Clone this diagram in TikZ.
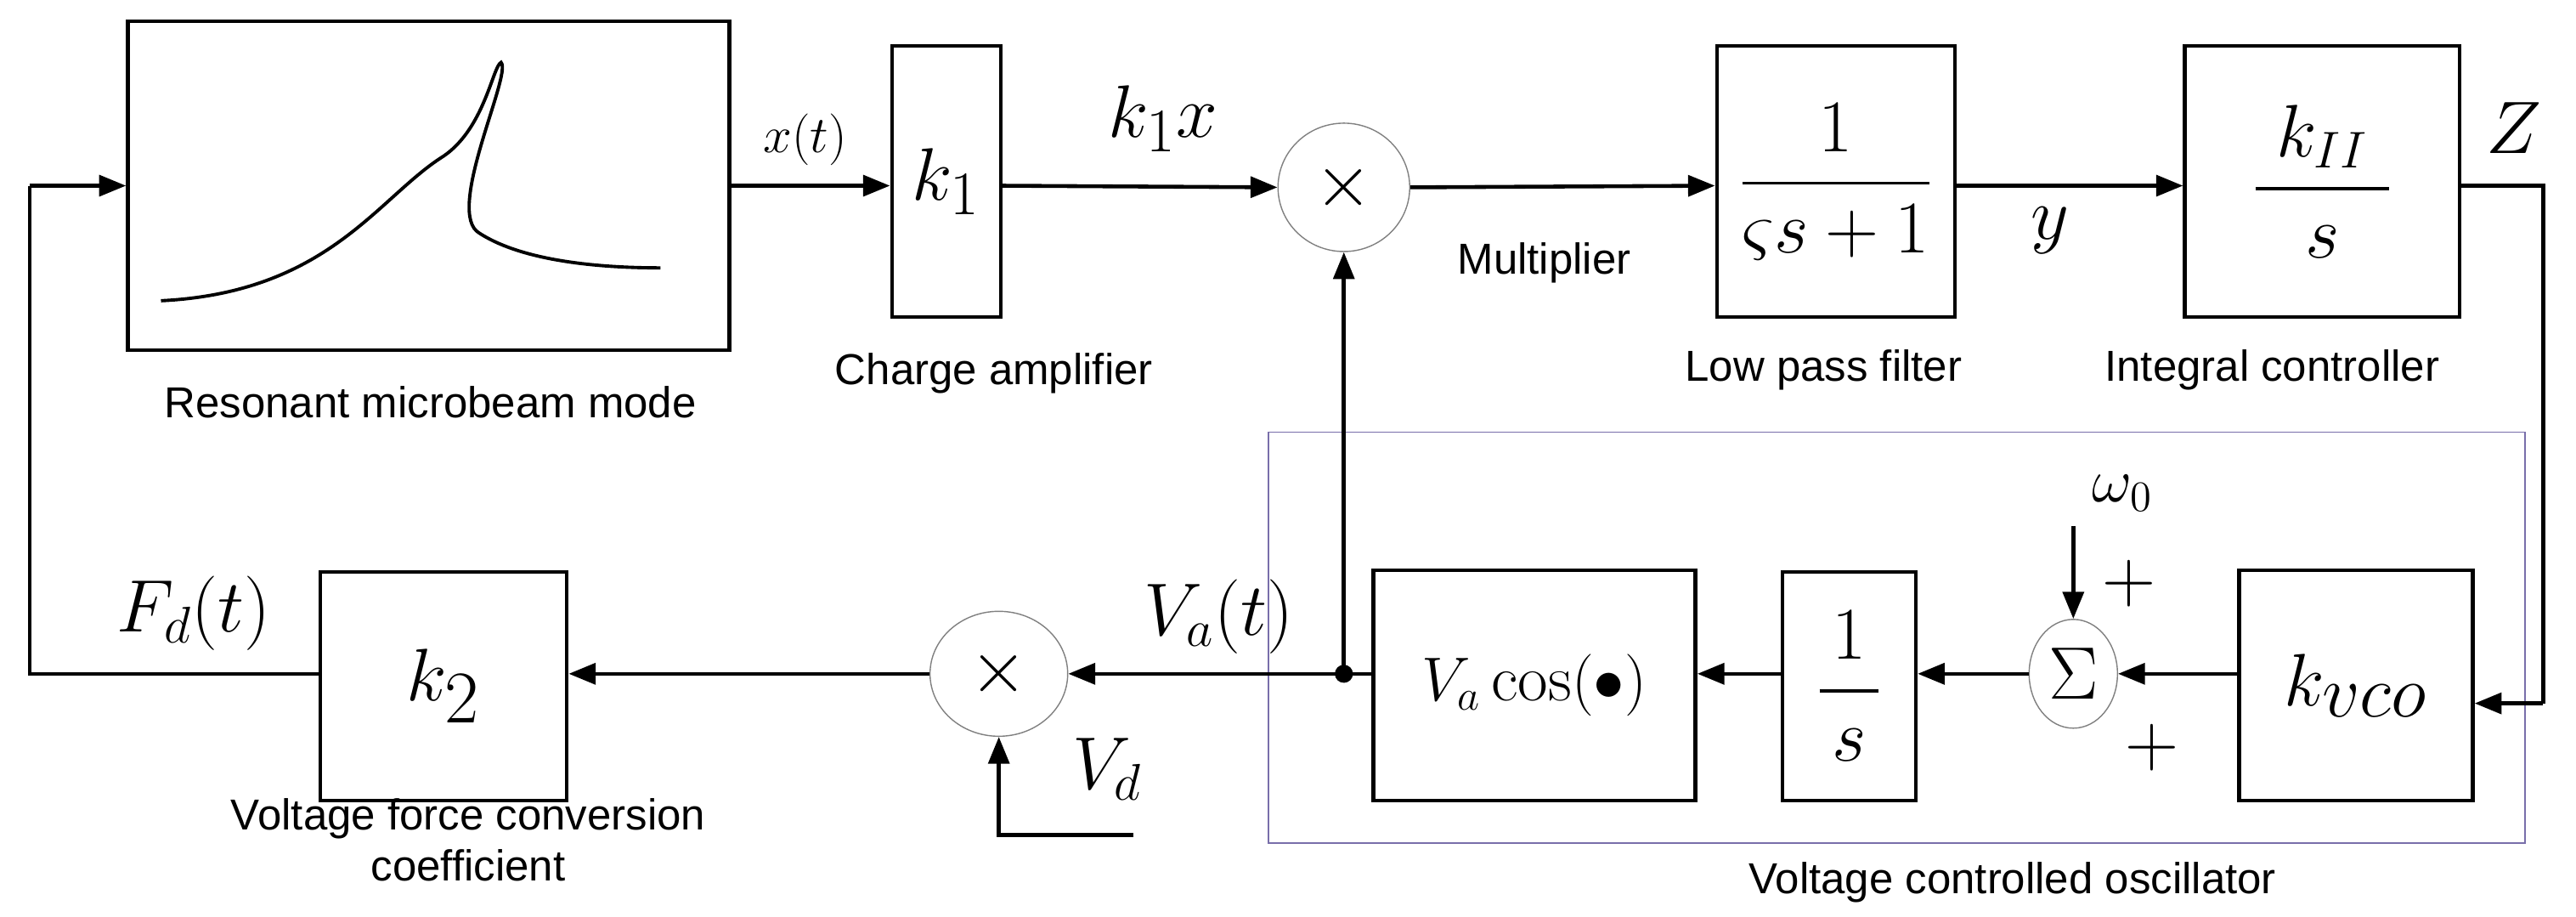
\documentclass[tikz,border=0pt]{standalone}
\usepackage{amsmath}
\usepackage{fontspec}
\newfontfamily\lbl{Liberation Sans}
\usetikzlibrary{arrows.meta,shapes.geometric}
\tikzset{
  blk/.style={draw,line width=1.3pt,inner sep=0pt},
  mul/.style={draw=gray,ellipse,inner sep=0pt,thin},
  sig/.style={line width=1.3pt,-{Triangle[length=9pt,width=7pt]}},
  wire/.style={line width=1.3pt},
  txt/.style={font=\lbl\fontsize{14.5}{17}\selectfont}
}
\begin{document}
\begin{tikzpicture}[x=0.01934cm,y=-0.01934cm]
\useasboundingbox (0,0) rectangle (1568,558);
% top row
\node[blk,minimum width=7.08cm,minimum height=3.87cm] (beam) at (261,113) {};
\draw[line width=1.1pt] (98,183) .. controls (200,178) and (230,120) .. (270,95)
  .. controls (295,78) and (300,40) .. (305,38) .. controls (312,45) and (270,130) .. (292,142)
  .. controls (320,160) and (370,163) .. (402,163);
\node[blk,minimum width=1.28cm,minimum height=3.19cm] (k1) at (576,110.5) {\fontsize{30}{32}\selectfont$k_1$};
\node[mul,minimum width=1.55cm,minimum height=1.51cm] (m1) at (818,114) {\fontsize{50}{50}\selectfont$\times$};
\node[blk,minimum width=2.80cm,minimum height=3.19cm] (lpf) at (1117.5,110.5) {\fontsize{27}{29}\selectfont$\dfrac{\,1\,}{\varsigma s+1}$};
\node[blk,minimum width=3.23cm,minimum height=3.19cm] (ic) at (1413.5,110.5) {\fontsize{27}{29}\selectfont$\dfrac{\;k_{II}\;}{s}$};
% bottom row
\node[blk,minimum width=2.75cm,minimum height=2.71cm] (vco) at (1434,417) {\fontsize{34}{36}\selectfont$k_{vco}$};
\node[mul,minimum width=1.04cm,minimum height=1.28cm] (sum) at (1262,410) {\fontsize{24}{24}\selectfont$\Sigma$};
\node[blk,minimum width=1.57cm,minimum height=2.69cm] (intg) at (1125.5,417.5) {\fontsize{27}{29}\selectfont$\dfrac{\,1\,}{s}$};
\node[blk,minimum width=3.79cm,minimum height=2.71cm] (osc) at (934,417) {\fontsize{22}{24}\selectfont$V_a\cos(\bullet)$};
\node[mul,minimum width=1.62cm,minimum height=1.47cm] (m2) at (608,410) {\fontsize{50}{50}\selectfont$\times$};
\node[blk,minimum width=2.90cm,minimum height=2.69cm] (k2) at (270,417.5) {\fontsize{38}{40}\selectfont$k_2$};
\draw[draw={rgb,255:red,120;green,110;blue,170},thin] (772,263) rectangle (1537,513);
% connectors
\coordinate (tap) at (818,410);
\coordinate (zc) at (1548,113);
\coordinate (zd) at (1548,428);
\coordinate (fa) at (18,410);
\coordinate (fb) at (18,113);
\coordinate (om) at (1262,320);
\coordinate (vd) at (690,508);
\draw[sig] (beam.east|-0,113) -- (k1.west|-0,113);
\draw[sig] (k1.east|-0,113) -- (m1.west);
\draw[sig] (m1.east) -- (lpf.west|-0,113);
\draw[sig] (lpf.east|-0,113) -- (ic.west|-0,113);
\draw[wire] (ic.east|-0,113) -- (zc) -- (zd);
\draw[sig] (zd) -- (vco.east|-zd);
\draw[sig] (vco.west|-sum) -- (sum.east);
\draw[sig] (om) -- (sum.north);
\draw[sig] (sum.west) -- (intg.east|-sum);
\draw[sig] (intg.west|-sum) -- (osc.east|-sum);
\draw[sig] (osc.west|-sum) -- (m2.east);
\draw[sig] (tap) -- (m1.south);
\fill (tap) circle (5.5);
\draw[sig] (vd) -- (m2|-vd) -- (m2.south);
\draw[sig] (m2.west) -- (k2.east|-m2);
\draw[wire] (k2.west|-m2) -- (fa) -- (fb);
\draw[sig] (fb) -- (beam.west|-fb);
% labels
\node at (490,85) {\fontsize{19}{20}\selectfont$x(t)$};
\node at (708,72) {\fontsize{30}{32}\selectfont$k_1x$};
\node at (1248,140) {\fontsize{25}{27}\selectfont$y$};
\node at (1530,78) {\fontsize{30}{32}\selectfont$Z$};
\node at (1292,300) {\fontsize{20}{22}\selectfont$\omega_0$};
\node at (1296,355) {\fontsize{26}{28}\selectfont$+$};
\node at (1310,455) {\fontsize{26}{28}\selectfont$+$};
\node at (742,375) {\fontsize{25}{27}\selectfont$V_a(t)$};
\node at (674,468) {\fontsize{25}{27}\selectfont$V_d$};
\node at (118,373) {\fontsize{25}{27}\selectfont$F_d(t)$};
\node[txt] at (262,245) {Resonant microbeam mode};
\node[txt] at (605,227) {Charge amplifier};
\node[txt] at (940,160) {Multiplier};
\node[txt] at (1110,225) {Low pass filter};
\node[txt] at (1383,225) {Integral controller};
\node[txt,align=center] at (285,511) {Voltage force conversion\\coefficient};
\node[txt] at (1225,537) {Voltage controlled oscillator};
\end{tikzpicture}
\end{document}
